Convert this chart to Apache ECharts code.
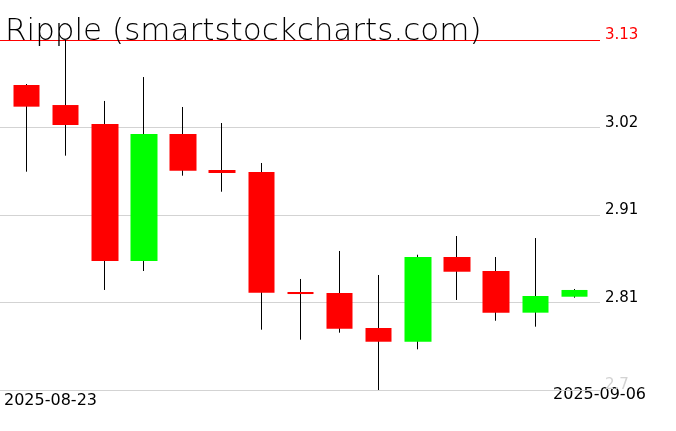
<!DOCTYPE html>
<html>
<head>
<meta charset="utf-8">
<script src="https://cdn.jsdelivr.net/npm/echarts@6/dist/echarts.min.js"></script>
<style>
  html, body { margin: 0; padding: 0; background: #fff; }
  #chart { width: 676px; height: 431px; }
</style>
</head>
<body>
<div id="chart"></div>
<script>
// daily candles, 2025-08-23 .. 2025-09-06
var dates = ['2025-08-23', '2025-08-24', '2025-08-25', '2025-08-26', '2025-08-27',
  '2025-08-28', '2025-08-29', '2025-08-30', '2025-08-31', '2025-09-01',
  '2025-09-02', '2025-09-03', '2025-09-04', '2025-09-05', '2025-09-06'];
var openVals  = [3.0747, 3.0501, 3.0268, 2.8585, 3.0145, 2.9703, 2.9678, 2.8204,
  2.8192, 2.7762, 2.7593, 2.8634, 2.8462, 2.7950, 2.8146];
var closeVals = [3.0481, 3.0256, 2.8585, 3.0145, 2.9694, 2.9666, 2.8195, 2.8179,
  2.7753, 2.7593, 2.8634, 2.8453, 2.7950, 2.8155, 2.8229];
var lowVals   = [2.9682, 2.9879, 2.8229, 2.8462, 2.9633, 2.9436, 2.7741, 2.7618,
  2.7704, 2.7000, 2.7500, 2.8106, 2.7851, 2.7778, 2.8134];
var highVals  = [3.0759, 3.1300, 3.0551, 3.0845, 3.0477, 3.0280, 2.9789, 2.8364,
  2.8708, 2.8413, 2.8662, 2.8892, 2.8634, 2.8867, 2.8241];
var tickLabels = ['2.7', '2.81', '2.91', '3.02', '3.13'];
var priceMin = 2.70, priceMax = 3.13;

var chart = echarts.init(document.getElementById('chart'));

var wickData = [];
var bodyData = [];
for (var i = 0; i < dates.length; i++) {
  var o = openVals[i], c = closeVals[i];
  wickData.push([i, o, c, lowVals[i], highVals[i]]);
  bodyData.push([i, o, c, Math.min(o, c), Math.max(o, c)]);
}

var labelColor = function (v, idx) {
  if (idx === 0) return '#d3d3d3';
  if (idx === tickLabels.length - 1) return '#ff0000';
  return '#000';
};

var option = {
  backgroundColor: '#fff',
  animation: false,
  title: {
    text: 'Ripple (smartstockcharts.com)',
    left: 5,
    top: 16,
    padding: 0,
    textStyle: {
      fontFamily: 'DejaVu Sans',
      fontSize: 31,
      fontWeight: 200,
      color: '#000'
    }
  },
  grid: { left: 0, right: 76, top: 40, bottom: 41 },
  xAxis: {
    type: 'value',
    min: -0.677,
    max: 14.653,
    show: false,
    splitLine: { show: false }
  },
  yAxis: [{
    type: 'value',
    min: priceMin,
    max: priceMax,
    show: false,
    splitLine: { show: false }
  }, {
    // gridline / label axis, one step per labelled level
    type: 'value',
    position: 'right',
    min: 0,
    max: tickLabels.length - 1,
    interval: 1,
    axisLine: { show: false },
    axisTick: { show: false },
    splitLine: {
      show: true,
      lineStyle: { color: ['#d3d3d3', '#d3d3d3', '#d3d3d3', '#d3d3d3', '#ff0000'], width: 1 }
    },
    axisLabel: {
      margin: 5,
      fontFamily: 'DejaVu Sans',
      fontSize: 15,
      verticalAlign: 'bottom',
      lineHeight: 9,
      color: labelColor,
      formatter: function (v, idx) { return tickLabels[v]; }
    }
  }],
  graphic: [{
    type: 'text',
    x: 4,
    y: 401,
    style: {
      text: dates[0],
      font: '16px "DejaVu Sans"',
      fill: '#000',
      verticalAlign: 'middle'
    }
  }, {
    type: 'text',
    x: 646,
    y: 395,
    style: {
      text: dates[dates.length - 1],
      font: '16px "DejaVu Sans"',
      fill: '#000',
      align: 'right',
      verticalAlign: 'middle'
    }
  }],
  series: [{
    type: 'candlestick',
    name: 'wick',
    yAxisIndex: 0,
    barWidth: 0.5,
    silent: true,
    itemStyle: {
      color: '#000', color0: '#000',
      borderColor: '#000', borderColor0: '#000',
      borderWidth: 1
    },
    data: wickData
  }, {
    type: 'candlestick',
    name: 'body',
    yAxisIndex: 0,
    barWidth: 27,
    silent: true,
    itemStyle: {
      color: '#00ff00', color0: '#ff0000',
      borderColor: '#00ff00', borderColor0: '#ff0000',
      borderWidth: 0
    },
    data: bodyData
  }]
};

chart.setOption(option);
</script>
</body>
</html>
